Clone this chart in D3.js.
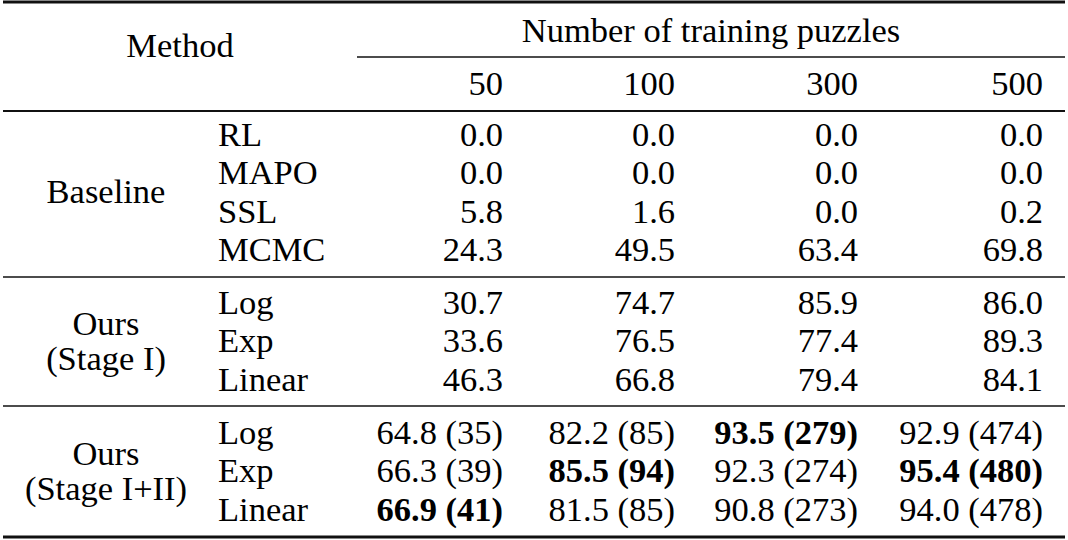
<!DOCTYPE html>
<html>
<head>
<meta charset="utf-8">
<script src="https://cdn.jsdelivr.net/npm/d3@7"></script>
</head>
<body style="margin:0">
<script>
// Table contents
const puzzleCounts = ['50', '100', '300', '500'];

const baselineMethods = ['RL', 'MAPO', 'SSL', 'MCMC'];
const baselineValues = [
  [0.0, 0.0, 0.0, 0.0],
  [0.0, 0.0, 0.0, 0.0],
  [5.8, 1.6, 0.0, 0.2],
  [24.3, 49.5, 63.4, 69.8]
];

const stage1Methods = ['Log', 'Exp', 'Linear'];
const stage1Values = [
  [30.7, 74.7, 85.9, 86.0],
  [33.6, 76.5, 77.4, 89.3],
  [46.3, 66.8, 79.4, 84.1]
];

const stage2Methods = ['Log', 'Exp', 'Linear'];
const stage2Values = [
  [64.8, 82.2, 93.5, 92.9],
  [66.3, 85.5, 92.3, 95.4],
  [66.9, 81.5, 90.8, 94.0]
];
const stage2Counts = [
  [35, 85, 279, 474],
  [39, 94, 274, 480],
  [41, 85, 273, 478]
];

const W = 1068, H = 540;
const FS = 34.5;
const FONT = '"Liberation Serif", monospace';

const svg = d3.select('body').append('svg')
  .attr('width', W).attr('height', H)
  .attr('font-family', FONT);

// right edges of the number columns
const xRight = d3.scaleOrdinal().domain(puzzleCounts).range([503, 675, 858, 1043]);
const xLeft = 3, xRightEdge = 1065;
const methodX = 218, groupX = 106;
const pitch = 38.3;

function rule(y, w, x0 = xLeft, x1 = xRightEdge) {
  svg.append('line')
    .attr('x1', x0).attr('x2', x1)
    .attr('y1', y).attr('y2', y)
    .attr('stroke', '#111').attr('stroke-width', w);
}

function txt(x, y, s, anchor = 'start', bold = false) {
  const t = svg.append('text')
    .attr('x', x).attr('y', y)
    .attr('font-family', FONT)
    .attr('font-size', FS)
    .attr('text-anchor', anchor)
    .text(s);
  if (bold) t.attr('font-weight', 'bold');
  return t;
}

// Header
rule(2, 3);
txt(180, 57, 'Method', 'middle');
txt((357 + xRightEdge) / 2, 42, 'Number of training puzzles', 'middle');
rule(57, 1.6, 357, xRightEdge);
puzzleCounts.forEach(c => txt(xRight(c), 95, c, 'end'));
rule(111, 1.8);

function section(methods, values, counts, top, labels) {
  const y = d3.scaleLinear().domain([0, 1]).range([top, top + pitch]);
  const best = puzzleCounts.map((_, j) => counts ? d3.max(values, r => r[j]) : null);
  methods.forEach((m, i) => {
    txt(methodX, y(i), m);
    puzzleCounts.forEach((c, j) => {
      const v = values[i][j];
      const s = counts ? `${v.toFixed(1)} (${counts[i][j]})` : v.toFixed(1);
      txt(xRight(c), y(i), s, 'end', !!counts && v === best[j]);
    });
  });
  const mid = (y(0) + y(methods.length - 1)) / 2;
  if (labels.length === 1) {
    txt(groupX, mid, labels[0], 'middle');
  } else {
    txt(groupX, mid - pitch * 0.45, labels[0], 'middle');
    txt(groupX, mid + pitch * 0.45, labels[1], 'middle');
  }
}

section(baselineMethods, baselineValues, null, 146, ['Baseline']);
rule(277, 1.6);
section(stage1Methods, stage1Values, null, 314, ['Ours', '(Stage I)']);
rule(406, 1.6);
section(stage2Methods, stage2Values, stage2Counts, 444, ['Ours', '(Stage I+II)']);
rule(537, 3);
</script>
</body>
</html>
